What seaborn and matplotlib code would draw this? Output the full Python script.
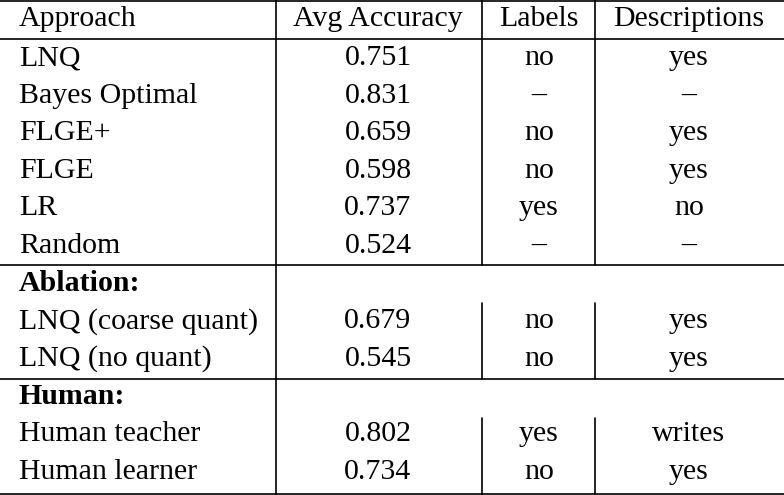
import matplotlib
matplotlib.use("Agg")
import matplotlib.pyplot as plt
import seaborn as sns

sns.set_theme(style="white")
plt.rcParams['font.family'] = ['Liberation Serif', 'DejaVu Serif']
plt.rcParams['text.color'] = 'black'

headers = ["Approach", "Avg Accuracy", "Labels", "Descriptions"]
approaches = ["LNQ", "Bayes Optimal", "FLGE+", "FLGE", "LR", "Random",
              "Ablation:", "LNQ (coarse quant)", "LNQ (no quant)",
              "Human:", "Human teacher", "Human learner"]
accuracy = ["0.751", "0.831", "0.659", "0.598", "0.737", "0.524",
            "", "0.679", "0.545", "", "0.802", "0.734"]
labels = ["no", "–", "no", "no", "yes", "–", "", "no", "no", "", "yes", "no"]
descriptions = ["yes", "–", "yes", "yes", "no", "–", "", "yes", "yes", "", "writes", "yes"]
section_rows = ["Ablation:", "Human:"]

fig = plt.figure(figsize=(7.84, 4.95), dpi=100)
ax = fig.add_axes([0, 0, 1, 1])
ax.set_xlim(0, 784)
ax.set_ylim(495, 0)
ax.axis("off")

fs = 21.5
row_y = [19] + [58 + 37.6 * i for i in range(len(approaches))]
col_x = [19, 378, 539, 689]

ax.text(col_x[0], row_y[0], headers[0], fontsize=fs, va="center", ha="left", color="black")
for j in range(1, 4):
    ax.text(col_x[j], row_y[0], headers[j], fontsize=fs, va="center", ha="center", color="black")

for i, name in enumerate(approaches):
    y = row_y[i + 1]
    bold = name in section_rows
    ax.text(col_x[0], y, name, fontsize=fs, va="center", ha="left", color="black",
            fontweight="bold" if bold else "normal")
    for j, col in enumerate([accuracy, labels, descriptions], start=1):
        if col[i]:
            ax.text(col_x[j], y, col[i], fontsize=fs, va="center", ha="center", color="black")

lw = 1.2
for y in [0.6, 39, 265, 379, 493.5]:
    ax.plot([0, 784], [y, y], color="black", lw=lw, solid_capstyle="butt")
ax.plot([276, 276], [0, 494], color="black", lw=lw)
for x in [482, 595]:
    for y0, y1 in [(0, 265), (303, 379), (418, 494)]:
        ax.plot([x, x], [y0, y1], color="black", lw=lw)

fig.savefig("out.png", dpi=100)
